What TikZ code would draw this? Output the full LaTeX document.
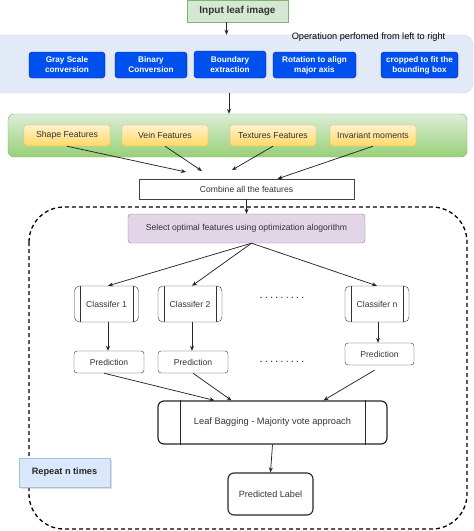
\documentclass[tikz,border=0pt]{standalone}
\usepackage{fontspec}
\setmainfont{Liberation Sans}
\usetikzlibrary{arrows.meta,shadows}

\definecolor{inputgreen}{HTML}{D5E8D4}
\definecolor{inputline}{HTML}{82B366}
\definecolor{panelblue}{HTML}{E2EAF7}
\definecolor{panelline}{HTML}{C8D5EA}
\definecolor{stepblue}{HTML}{0050EF}
\definecolor{stepline}{HTML}{001DBC}
\definecolor{greentop}{HTML}{DDEED8}
\definecolor{greenbot}{HTML}{97D077}
\definecolor{yellowtop}{HTML}{FFF2CC}
\definecolor{yellowbot}{HTML}{FFD966}
\definecolor{yellowline}{HTML}{D6B656}
\definecolor{selectfill}{HTML}{E1D5E7}
\definecolor{selectline}{HTML}{9673A6}
\definecolor{repeatfill}{HTML}{DAE8FC}
\definecolor{repeatline}{HTML}{A9BEDD}
\definecolor{txt}{HTML}{333333}

\begin{document}
\begin{tikzpicture}[x=1pt, y=-1pt,
  every node/.style={inner sep=1pt, align=center, text=txt},
  small/.style={font=\fontsize{8.6}{10}\selectfont},
  stepbox/.style={draw=stepline, fill=stepblue, rounded corners=3pt, text=white,
    minimum height=26pt, font=\bfseries\fontsize{8.2}{10}\selectfont},
  featbox/.style={draw=yellowline, top color=yellowtop, bottom color=yellowbot,
    rounded corners=2pt, minimum width=86pt, minimum height=21pt, font=\fontsize{8.7}{10}\selectfont},
  classbox/.style={draw=black!80, rounded corners=5pt, minimum width=64pt, minimum height=36pt, small},
  predbox/.style={draw=black!80, rounded corners=3pt, minimum width=70pt, minimum height=22pt, small},
  arrow/.style={draw=black!85, line width=0.75pt, -{Stealth[length=5pt,width=4pt]}}
]
  \useasboundingbox (0,0) rectangle (474,531);
  \clip (0,0) rectangle (474,531);

  % Input
  \node[draw=inputline, fill=inputgreen, minimum width=101pt, minimum height=22pt,
    font=\bfseries\fontsize{10}{12}\selectfont] (input) at (237.5,11) {Input leaf image};

  % Preprocessing panel
  \node[draw=panelline, fill=panelblue, rounded corners=10pt, minimum width=485pt,
    minimum height=58pt] (panel) at (230.5,64) {};
  \node[font=\fontsize{9.2}{11}\selectfont, text=black] (oplabel) at (368.5,37) {Operatiuon perfomed from left to right};
  \node[stepbox, minimum width=76pt] (gray) at (67,65) {Gray Scale\\conversion};
  \node[stepbox, minimum width=72pt] (binary) at (151,65) {Binary\\Conversion};
  \node[stepbox, minimum width=72pt, minimum height=27pt] (boundary) at (230,64.5) {Boundary\\extraction};
  \node[stepbox, minimum width=83pt] (rotate) at (314.5,65) {Rotation to align\\major axis};
  \node[stepbox, minimum width=77pt] (crop) at (419.5,65) {cropped to fit the\\bounding box};

  % Feature panel
  \node[draw=inputline, top color=greentop, bottom color=greenbot, rounded corners=6pt,
    minimum width=459pt, minimum height=43pt] (features) at (237.5,135.5) {};
  \node[featbox] (shape) at (67,135.5) {Shape Features};
  \node[featbox] (vein) at (165,135.5) {Vein Features};
  \node[featbox] (texture) at (273,135.5) {Textures Features};
  \node[featbox] (moments) at (373,135.5) {Invariant moments};

  % Combine
  \node[draw=black!75, fill=white, minimum width=215pt, minimum height=20pt, small] (combine) at (246.5,189) {Combine all the features};
  \coordinate (c1) at (186,172);
  \coordinate (c2) at (202,171);
  \coordinate (c3) at (232,170);

  % Repeated part
  \draw[line width=1.3pt, dash pattern=on 4pt off 3pt, rounded corners=35pt] (29,207) rectangle (467,529);
  \node[draw=selectline, fill=selectfill, rounded corners=3pt, minimum width=237pt,
    minimum height=29pt, small] (select) at (246.5,228.5) {Select optimal features using optimization alogorithm};

  \node[classbox] (cls1) at (106.5,304) {Classifer 1};
  \node[classbox] (cls2) at (190,304) {Classifer 2};
  \node[classbox] (clsn) at (377,304) {Classifer n};
  \foreach \c in {cls1,cls2,clsn}{
    \draw[black!80] ([xshift=6pt]\c.north west) -- ([xshift=6pt]\c.south west);
    \draw[black!80] ([xshift=-6pt]\c.north east) -- ([xshift=-6pt]\c.south east);
  }
  \node[font=\bfseries\fontsize{8}{10}\selectfont] (dots1) at (282,298) {. . . . . . . . .};

  \node[predbox] (pred1) at (109,362) {Prediction};
  \node[predbox] (pred2) at (193,362) {Prediction};
  \node[predbox, minimum width=69pt] (predn) at (379.5,354) {Prediction};
  \node[font=\bfseries\fontsize{8}{10}\selectfont] (dots2) at (282,362) {. . . . . . . . .};

  \node[draw=black!85, line width=1.2pt, rounded corners=6pt, minimum width=229pt,
    minimum height=43pt, font=\fontsize{9.3}{11}\selectfont] (bagging) at (272.5,422.5) {Leaf Bagging - Majority vote approach};
  \draw[black!85, line width=1.1pt] ([xshift=23pt]bagging.north west) -- ([xshift=23pt]bagging.south west);
  \draw[black!85, line width=1.1pt] ([xshift=-22pt]bagging.north east) -- ([xshift=-22pt]bagging.south east);

  \node[draw=black!85, line width=1.1pt, rounded corners=6pt, minimum width=85pt,
    minimum height=42pt, font=\fontsize{9.1}{11}\selectfont] (label) at (270.5,494) {Predicted Label};

  \node[draw=repeatline, fill=repeatfill, drop shadow={opacity=0.25, shadow xshift=2pt, shadow yshift=-2pt},
    minimum width=91pt, minimum height=29pt, text=black!85, font=\bfseries\fontsize{9.2}{11}\selectfont] (repeat) at (64.5,472.5) {Repeat n times};

  % Connectors
  \draw[arrow] ([xshift=-11pt]input.south) -- ([xshift=-11pt]input.south |- panel.north);
  \draw[arrow] ([xshift=-1.5pt]panel.south) -- ([xshift=-1.5pt]panel.south |- features.north);
  \draw[arrow] (shape.south) -- (c1);
  \draw[arrow] (vein.south) -- (c2);
  \draw[arrow] (texture.south) -- (c3);
  \draw[arrow] (moments.south) -- ([xshift=31pt]combine.north);
  \draw[arrow] (combine.south) -- (select.north);
  \draw[arrow] ([xshift=5pt]select.south) -- ([xshift=1.5pt]cls1.north);
  \draw[arrow] ([xshift=5pt]select.south) -- ([xshift=2pt]cls2.north);
  \draw[arrow] ([xshift=5pt]select.south) -- (clsn.north);
  \draw[arrow] ([xshift=1.5pt]cls1.south) -- ([xshift=1.5pt]cls1.south |- pred1.north);
  \draw[arrow] ([xshift=2pt]cls2.south) -- ([xshift=2pt]cls2.south |- pred2.north);
  \draw[arrow] ([xshift=1pt]clsn.south) -- ([xshift=1pt]clsn.south |- predn.north);
  \draw[arrow] ([xshift=-5pt]pred1.south) -- ([xshift=-58pt]bagging.north);
  \draw[arrow] (pred2.south) -- ([xshift=-41pt]bagging.north);
  \draw[arrow] ([xshift=-5pt,yshift=-5pt]predn.south) -- ([xshift=51pt]bagging.north);
  \draw[arrow] (bagging.south) -- (label.north);
\end{tikzpicture}
\end{document}
